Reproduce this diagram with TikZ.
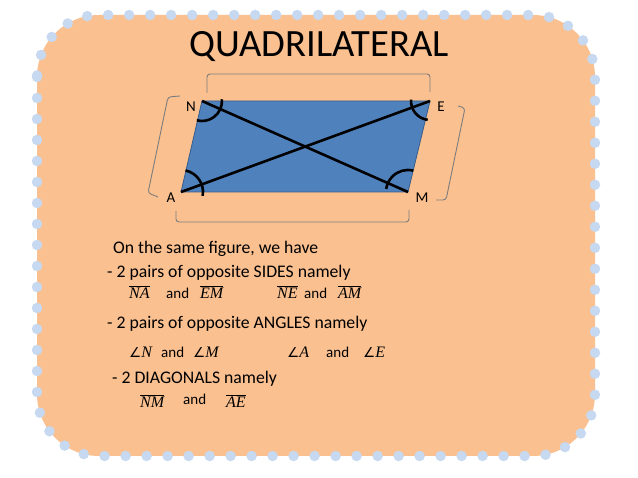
\RequirePackage{fix-cm}
\documentclass[tikz,border=0pt]{standalone}
\usepackage{fontspec}
\setmainfont{Carlito}
\newfontfamily\serifit{Liberation Serif}[ItalicFont=*-Italic]
\newfontfamily\symfont{DejaVu Sans}[Scale=0.85]
\newcommand{\mletter}[1]{\text{\serifit\itshape #1}}
\newcommand{\angsign}{{\symfont ∠}}
\usepackage{amsmath}
\usetikzlibrary{calc}
\usepackage{xcolor}
\definecolor{peach}{RGB}{250,192,144}
\definecolor{dotblue}{RGB}{198,217,241}
\definecolor{quadblue}{RGB}{79,129,189}
\definecolor{quadedge}{RGB}{56,93,138}
\definecolor{bracegray}{RGB}{125,125,125}

\begin{document}
\begin{tikzpicture}[x=1pt, y=1pt]
        % ================= styles =================
        \tikzset{
            % peach card with a border of light blue dots
            card/.style={fill=peach, draw=dotblue, line width=10.5pt, line cap=round,
                dash pattern=on 0pt off 21pt, rounded corners=62pt},
            % the blue quadrilateral
            quad_fill/.style={fill=quadblue, draw=quadedge, line width=0.8pt},
            % thick black diagonals and angle marks
            diag_line/.style={line width=2.6pt, black},
            angle_mark/.style={line width=2.6pt, black},
            % thin grey brackets round the figure
            brace_line/.style={line width=0.9pt, bracegray, rounded corners=3pt},
            % vertex letters
            vlabel/.style={font=\fontsize{15}{18}\selectfont, inner sep=0pt},
            % text lines
            body_text/.style={font=\fontsize{17.7}{22}\selectfont, anchor=base west, inner sep=0pt},
            small_text/.style={font=\fontsize{15}{18}\selectfont, anchor=base west, inner sep=0pt},
            math_text/.style={font=\fontsize{16}{18}\selectfont, anchor=base west, inner sep=0pt}
        }
        \useasboundingbox (0,0) rectangle (638,-478);

        % ================= card =================
        \path[card] (37,-15) rectangle (595,-456);

        \node[font=\fontsize{38.6}{42}\selectfont, anchor=base, inner sep=0pt] (title) at (319,-57) {QUADRILATERAL};

        % ================= quadrilateral NEMA =================
        \coordinate (N) at (202,-101);
        \coordinate (E) at (430,-101);
        \coordinate (M) at (408,-192);
        \coordinate (A) at (181,-192);

        \draw[quad_fill] (N) -- (E) -- (M) -- (A) -- cycle;

        % brackets on the four sides
        \draw[brace_line] (207,-93) -- (207,-74) -- (430,-74) -- (430,-92);
        \draw[brace_line] (176,-211) -- (176,-222) -- (409,-222) -- (409,-210);
        \draw[brace_line] (180,-96) -- (168,-97) -- (148,-193) -- (158,-197);
        \draw[brace_line] (458,-106) -- (465,-108) -- (446,-200) -- (436,-200);

        % diagonals
        \draw[diag_line] (N) -- (M);
        \draw[diag_line] (A) -- (E);

        % angle marks
        \draw[angle_mark] ($(N)+(5:20)$) arc[start angle=5, end angle=-105, radius=20];
        \draw[angle_mark] ($(E)+(176:19)$) arc[start angle=176, end angle=263, radius=19];
        \draw[angle_mark] ($(M)+(76:22)$) arc[start angle=76, end angle=172, radius=22];
        \draw[angle_mark] ($(A)+(-10:22)$) arc[start angle=-10, end angle=78, radius=22];

        % vertex letters
        \node[vlabel] (lN) at (191,-107) {N};
        \node[vlabel] (lE) at (441,-107) {E};
        \node[vlabel] (lM) at (422,-198) {M};
        \node[vlabel] (lA) at (171,-198) {A};

        % ================= text =================
        \node[body_text] (t1) at (113,-254) {On the same figure, we have};
        \node[body_text] (t2) at (107,-278) {- 2 pairs of opposite SIDES namely};
        \node[math_text] (s1) at (129,-299) {$\overline{\mletter{NA}}$};
        \node[small_text] (s2) at (166,-299) {and};
        \node[math_text] (s3) at (200,-299) {$\overline{\mletter{EM}}$};
        \node[math_text] (s4) at (277,-299) {$\overline{\mletter{NE}}$};
        \node[small_text] (s5) at (304,-299) {and};
        \node[math_text] (s6) at (338,-299) {$\overline{\mletter{AM}}$};

        \node[body_text] (t3) at (107,-329) {- 2 pairs of opposite ANGLES namely};
        \node[math_text] (a1) at (129,-358) {\angsign\mletter{N}};
        \node[small_text] (a2) at (161,-358) {and};
        \node[math_text] (a3) at (193,-358) {\angsign\mletter{M}};
        \node[math_text] (a4) at (287,-358) {\angsign\mletter{A}};
        \node[small_text] (a5) at (326,-358) {and};
        \node[math_text] (a6) at (363,-358) {\angsign\mletter{E}};

        \node[body_text] (t4) at (112,-384) {- 2 DIAGONALS namely};
        \node[math_text] (d1) at (140,-408) {$\overline{\mletter{NM}}$};
        \node[small_text] (d2) at (183,-405) {and};
        \node[math_text] (d3) at (226,-408) {$\overline{\mletter{AE}}$};

    \end{tikzpicture}
\end{document}
